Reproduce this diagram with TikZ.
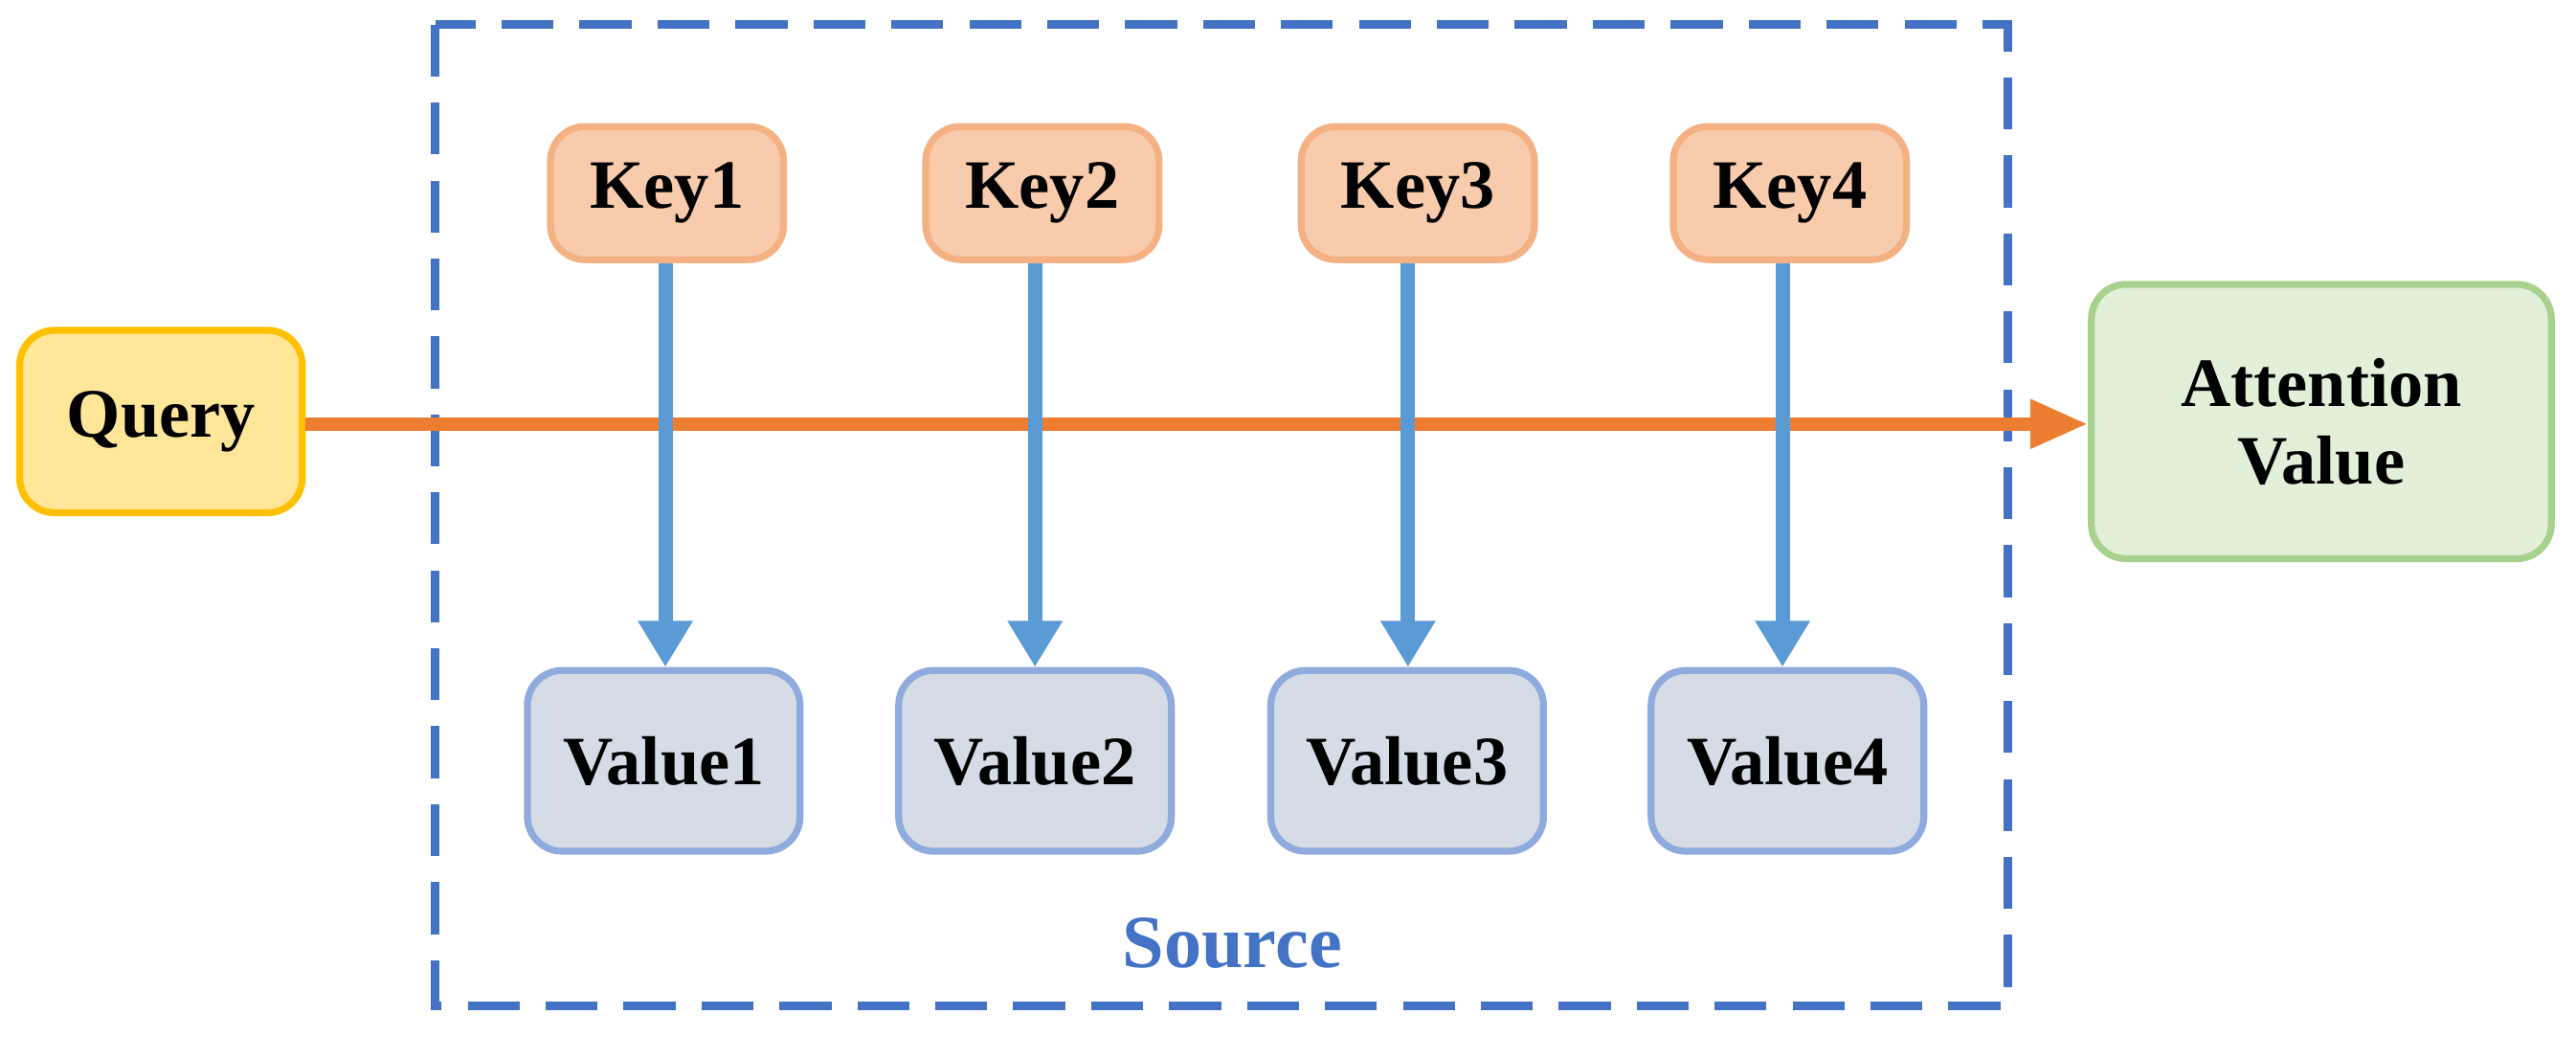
\documentclass[tikz,border=0pt]{standalone}
\usepackage{fontspec}
\setmainfont{Liberation Serif}
\usetikzlibrary{arrows.meta}
\definecolor{kf}{HTML}{F8CBAD}\definecolor{kd}{HTML}{F4B183}
\definecolor{vf}{HTML}{D6DCE5}\definecolor{vd}{HTML}{8FAADC}
\definecolor{qf}{HTML}{FFE699}\definecolor{qd}{HTML}{FFC000}
\definecolor{af}{HTML}{E2F0D9}\definecolor{ad}{HTML}{A9D18E}
\definecolor{org}{HTML}{ED7D31}\definecolor{blu}{HTML}{5B9BD5}\definecolor{src}{HTML}{4472C4}
\begin{document}
\begin{tikzpicture}[x=0.02cm,y=-0.02cm,
 box/.style={draw,line width=2.4pt,rounded corners=12pt,font=\fontsize{24}{27}\selectfont\bfseries,align=center,inner sep=0pt},
 key/.style={box,fill=kf,draw=kd,minimum width=2.84cm,minimum height=1.62cm},
 val/.style={box,fill=vf,draw=vd,minimum width=3.32cm,minimum height=2.2cm},
 karr/.style={blu,line width=5pt,-{Triangle[length=16pt,width=18pt]}}]
\useasboundingbox (0,0) rectangle (1568,631);
\draw[src,line width=3pt,dash pattern=on 18pt off 9pt] (265,15) rectangle (1222,612);
\node[box,fill=qf,draw=qd,minimum width=3.44cm,minimum height=2.22cm] (q) at (98,256.5) {Query};
\node[box,fill=af,draw=ad,minimum width=5.6cm,minimum height=3.34cm] (a) at (1413,256.5) {Attention\\Value};
\foreach \i/\kx/\vx in {1/406/404,2/634.5/630,3/863/856.5,4/1089.5/1088}{
 \node[key] (k\i) at (\kx,117.5) {Key\i};
 \node[val] (v\i) at (\vx,463) {Value\i};
}
\draw[org,line width=4.5pt,-{Triangle[length=20pt,width=16pt]}] (q.east|-0,258) -- (a.west|-0,258);
\foreach \i/\x in {1/405,2/630,3/857,4/1085}{
 \draw[karr] (k\i.south-|\x,0) -- (v\i.north-|\x,0);
}
\node[text=src,font=\fontsize{26}{30}\selectfont\bfseries] (s) at (750,574) {Source};
\end{tikzpicture}
\end{document}
